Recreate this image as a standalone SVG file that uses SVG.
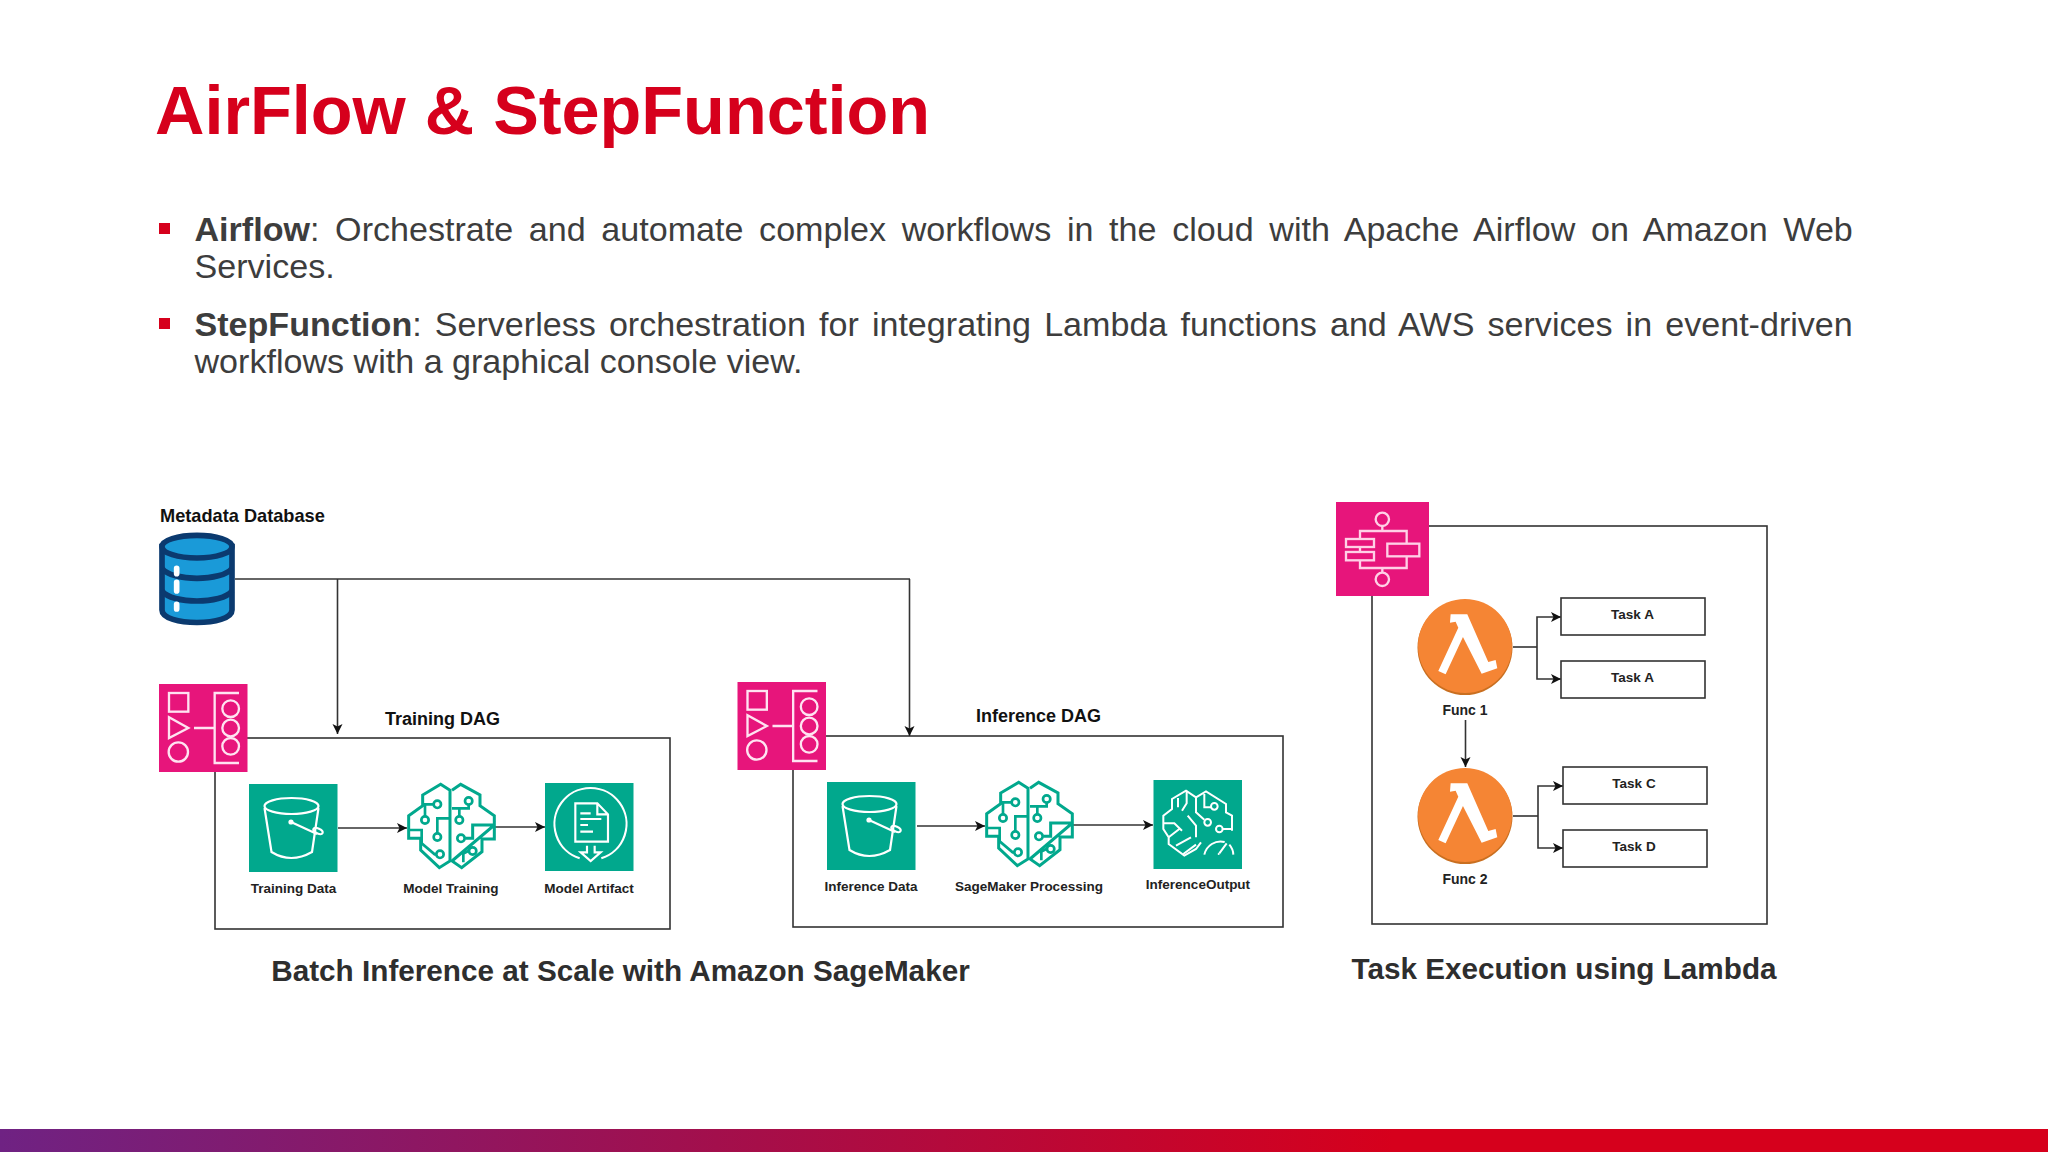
<svg xmlns="http://www.w3.org/2000/svg" width="2048" height="1152" viewBox="0 0 2048 1152">
<style>
text{font-family:"Liberation Sans",Arial,sans-serif}
.title{font-size:68.4px;font-weight:700;fill:#d6001c}
.body{font-size:34.1px;fill:#3d3d3d}
.b{font-weight:700}
.cap{font-size:29.7px;font-weight:700;fill:#2e2e2e;text-anchor:middle}
.hd{font-size:18px;font-weight:700;fill:#111}
.lb{font-size:13.5px;font-weight:700;fill:#222;text-anchor:middle}
.frame{fill:none;stroke:#333;stroke-width:1.6}
.task{fill:#fff;stroke:#333;stroke-width:1.6}
.c{fill:none;stroke:#333;stroke-width:1.6}
.a{marker-end:url(#arr)}
.tile{fill:#01a88d}
.pink{fill:#e7157b}
.w{fill:none;stroke:#fff;stroke-width:2.2}
.g{fill:none;stroke:#01a88d;stroke-linejoin:miter}
.g1{stroke-width:9}
.g2{stroke-width:8}
</style>
<defs>
<linearGradient id="bar" x1="0" x2="1" y1="0" y2="0">
<stop offset="0" stop-color="#6f2283"/>
<stop offset="0.35" stop-color="#a30f4c"/>
<stop offset="0.68" stop-color="#d6001c"/>
<stop offset="1" stop-color="#d6001c"/>
</linearGradient>
<marker id="arr" markerUnits="userSpaceOnUse" markerWidth="12" markerHeight="12" refX="10" refY="5" orient="auto">
<path d="M0,0 L10,5 L0,10 L2.5,5 Z" fill="#111"/>
</marker>
<g id="bucket">
<rect class="tile" width="88.5" height="88"/>
<ellipse class="w" cx="42.5" cy="22" rx="27" ry="8"/>
<path class="w" d="M15.5,24 L22.5,68 Q42,80 63,68 L69.5,24"/>
<circle cx="42" cy="38" r="2.6" fill="#fff"/>
<path class="w" d="M42,38 L68,50"/>
<ellipse class="w" cx="69" cy="47" rx="5" ry="2.4" transform="rotate(25 69 47)"/>
</g>
<g id="brain">
<g transform="scale(.3333)">
<path class="g g1" d="M150,46 L122,28 L68,60 V92 L26,122 V190 H62 V225 L118,278 L150,258 Z"/>
<path class="g g1" d="M156,46 L182,28 L240,60 V92 L283,122 V150 H218 V190 H196 M283,150 V192 H246 V230 L185,278 L156,258 Z"/>
<path class="g g2" d="M100,88 H75 V124 M112,174 V130 H150 M26,165 H65 V205 L104,238 H108 M206,90 V100 H156 M178,100 V124 M205,228 L190,236 V262"/>
<circle class="g g2" cx="112" cy="88" r="11"/>
<circle class="g g2" cx="75" cy="135" r="11"/>
<circle class="g g2" cx="112" cy="186" r="11"/>
<circle class="g g2" cx="120" cy="238" r="11"/>
<circle class="g g2" cx="206" cy="78" r="11"/>
<circle class="g g2" cx="178" cy="135" r="11"/>
<circle class="g g2" cx="183" cy="190" r="11"/>
<circle class="g g2" cx="218" cy="228" r="11"/>
</g>
</g>
<g id="pipeline">
<rect class="pink" width="88.5" height="88"/>
<g transform="translate(-5,-6) scale(.3333)" fill="none" stroke="#ffe3f1" stroke-width="7">
<rect x="45" y="45" width="58" height="56"/>
<path d="M45,118 V180 L103,150 Z"/>
<circle cx="73" cy="222" r="29"/>
<path d="M120,150 H182 M255,45 H182 V255 H255"/>
<circle cx="230" cy="92" r="25"/>
<circle cx="230" cy="150" r="25"/>
<circle cx="230" cy="205" r="25"/>
</g>
</g>
<g id="lambda">
<circle cx="0" cy="1.5" r="47.5" fill="#c96f20"/>
<circle cx="0" cy="0" r="47" fill="#f58534"/>
<g transform="translate(-52.7,-51.7) scale(.3333)">
<path fill="#fff" d="M115,60 L165,60 L228,203 L250,197 L255,222 L208,238 L152,128 L100,240 L78,230 L138,100 L130,82 L113,85 Z"/>
</g>
</g>
</defs>

<rect width="2048" height="1152" fill="#fff"/>
<rect x="0" y="1129" width="2048" height="23" fill="url(#bar)"/>

<text class="title" x="155" y="134">AirFlow &amp; StepFunction</text>
<rect x="159" y="223" width="11" height="11" fill="#d6001c"/>
<rect x="159" y="318" width="11" height="11" fill="#d6001c"/>
<text class="body" x="194.5" y="241" word-spacing="6.2"><tspan class="b">Airflow</tspan>: Orchestrate and automate complex workflows in the cloud with Apache Airflow on Amazon Web</text>
<text class="body" x="194.5" y="278">Services.</text>
<text class="body" x="194.5" y="336" word-spacing="3.65"><tspan class="b">StepFunction</tspan>: Serverless orchestration for integrating Lambda functions and AWS services in event-driven</text>
<text class="body" x="194.5" y="373">workflows with a graphical console view.</text>

<g id="training-dag">
<rect class="frame" x="215" y="738" width="455" height="191"/>
<use href="#pipeline" x="159" y="684"/>
<text class="hd" x="385" y="725">Training DAG</text>
</g>
<g id="inference-dag">
<rect class="frame" x="793" y="736" width="490" height="191"/>
<use href="#pipeline" x="737.5" y="682"/>
<text class="hd" x="976" y="722">Inference DAG</text>
</g>
<g id="step-function">
<rect class="frame" x="1372" y="526" width="395" height="398"/>
<rect class="pink" x="1336" y="502" width="93" height="94"/>
<g transform="translate(1330,497) scale(.3333)" fill="none" stroke="#ffd0e6" stroke-width="7">
<circle cx="157" cy="67" r="20"/>
<path d="M157,87 V102 M90,125 V102 H230 V140 M90,150 V165 M90,190 V213 H230 V178 M157,213 V227"/>
<rect x="48" y="126" width="84" height="24"/>
<rect x="48" y="165" width="84" height="25"/>
<rect x="172" y="140" width="96" height="38"/>
<circle cx="157" cy="247" r="20"/>
</g>
</g>

<g id="connectors">
<path class="c" d="M235,579 H910"/>
<path class="c a" d="M337.5,579 V734"/>
<path class="c a" d="M909.5,579 V736"/>
<path class="c a" d="M338,828 H407"/>
<path class="c a" d="M495,827 H545"/>
<path class="c a" d="M917,826 H985"/>
<path class="c a" d="M1073,825 H1153"/>
<path class="c" d="M1513,647 H1537"/>
<path class="c a" d="M1537,647 V617 H1561"/>
<path class="c a" d="M1537,647 V679 H1561"/>
<path class="c a" d="M1465.5,720 V767"/>
<path class="c" d="M1513,816 H1538"/>
<path class="c a" d="M1538,816 V786 H1563"/>
<path class="c a" d="M1538,816 V848 H1563"/>
</g>

<g id="metadata-db">
<text class="hd" x="160" y="522" style="font-size:18.2px">Metadata Database</text>
<g transform="translate(152,525) scale(.3333)">
<path d="M30,65 V255 C30,305 240,305 240,255 V65 Z" fill="#1a9ad8" stroke="#0b3a6f" stroke-width="17"/>
<ellipse cx="135" cy="65" rx="105" ry="34" fill="#1a9ad8" stroke="#0b3a6f" stroke-width="17"/>
<path d="M30,130 C60,170 210,170 240,130 M30,198 C60,238 210,238 240,198" fill="none" stroke="#0b3a6f" stroke-width="17"/>
<path d="M74,130 V146 M74,172 V198 M74,238 V252" stroke="#fff" stroke-width="17" stroke-linecap="round" fill="none"/>
</g>
</g>

<g id="training-data">
<use href="#bucket" x="249" y="784"/>
<text class="lb" x="293.5" y="893">Training Data</text>
</g>
<g id="model-training">
<use href="#brain" x="400" y="775"/>
<text class="lb" x="451" y="893">Model Training</text>
</g>
<g id="model-artifact">
<rect class="tile" x="545" y="783" width="88.5" height="88"/>
<g transform="translate(538,775) scale(.3333)" fill="none" stroke="#fff" stroke-width="6.5">
<path d="M125,250 A108,108 0 1 1 190,250"/>
<path d="M112,85 H178 L210,118 V200 H112 Z M178,85 V118 H210"/>
<path d="M127,115 H158 M127,132 H190 M127,150 H150 M127,170 H165"/>
<path d="M147,212 V232 H128 L158,258 L188,232 H170 V212"/>
</g>
<text class="lb" x="589" y="893">Model Artifact</text>
</g>

<g id="inference-data">
<use href="#bucket" x="827" y="782"/>
<text class="lb" x="871" y="891">Inference Data</text>
</g>
<g id="sagemaker-processing">
<use href="#brain" x="978" y="773"/>
<text class="lb" x="1029" y="891">SageMaker Processing</text>
</g>
<g id="inference-output">
<rect class="tile" x="1153.5" y="780" width="88.5" height="89"/>
<g transform="translate(1146,774) scale(.3333)" fill="none" stroke="#fff" stroke-width="6">
<path d="M150,70 L120,50 L78,75 V105 L52,125 V165 L68,190 V210 L115,245 L150,225 L165,205"/>
<path d="M150,70 L180,52 L240,90 V115 L258,125 V170 M150,70 V115 L175,137 M195,100 H175 V60 M231,165 H258"/>
<path d="M96,72 V100 M122,50 V88 L108,110 M52,148 H85 L108,170 M68,190 L100,165 M90,215 L135,190 M112,240 L150,212 M125,125 L150,155 V190"/>
<circle cx="205" cy="97" r="10"/>
<circle cx="185" cy="145" r="10"/>
<circle cx="220" cy="165" r="10"/>
<path d="M175,242 A50,50 0 0 1 236,204 M250,212 A48,48 0 0 1 262,242 M242,208 L220,238"/>
<circle cx="218" cy="240" r="3" fill="#fff" stroke="none"/>
</g>
<text class="lb" x="1198" y="889">InferenceOutput</text>
</g>

<g id="func-1"><use href="#lambda" x="1465" y="646"/><text class="lb" style="font-size:14px" x="1465" y="715">Func 1</text></g>
<g id="func-2"><use href="#lambda" x="1465" y="815"/><text class="lb" style="font-size:14px" x="1465" y="884">Func 2</text></g>
<g id="task-a1"><rect class="task" x="1561" y="598" width="144" height="37"/><text class="lb" x="1632.5" y="619">Task A</text></g>
<g id="task-a2"><rect class="task" x="1561" y="661" width="144" height="37"/><text class="lb" x="1632.5" y="682">Task A</text></g>
<g id="task-c"><rect class="task" x="1563" y="767" width="144" height="37"/><text class="lb" x="1634" y="788">Task C</text></g>
<g id="task-d"><rect class="task" x="1563" y="830" width="144" height="37"/><text class="lb" x="1634" y="851">Task D</text></g>

<text class="cap" x="620.5" y="981">Batch Inference at Scale with Amazon SageMaker</text>
<text class="cap" x="1564" y="979">Task Execution using Lambda</text>
</svg>
